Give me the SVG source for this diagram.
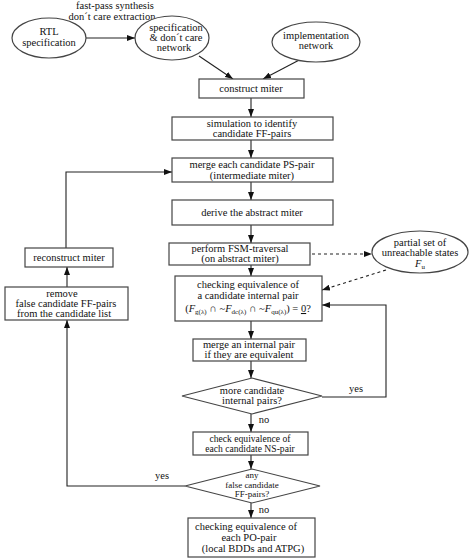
<svg xmlns="http://www.w3.org/2000/svg" width="474" height="560" viewBox="0 0 474 560">
<defs>
<marker id="ah" markerWidth="8" markerHeight="6" refX="8" refY="3" orient="auto" markerUnits="userSpaceOnUse">
<path d="M0,0 L8,3 L0,6 z" fill="#111"/>
</marker>
<style>
text{font-family:"Liberation Serif","Times New Roman",serif;font-size:10.5px;fill:#111;text-anchor:middle}
.tight{font-size:9.6px}
.tiny{font-size:9px}
.box{fill:#fff;stroke:#444;stroke-width:1.2}
.ln{fill:none;stroke:#222;stroke-width:1.1}
.ar{fill:none;stroke:#222;stroke-width:1.1;marker-end:url(#ah)}
.da{fill:none;stroke:#222;stroke-width:1.1;stroke-dasharray:3,3;marker-end:url(#ah)}
.sub{font-size:7px}
.it{font-style:italic}
</style>
</defs>
<rect width="474" height="560" fill="#fff"/>

<g id="connectors">
<path class="ar" d="M86,38 H135"/>
<path class="ar" d="M199,56 L233,79"/>
<path class="ar" d="M305,57 L263,79"/>
<path class="ar" d="M251,98 V117"/>
<path class="ar" d="M251,140 V158"/>
<path class="ar" d="M251,182 V200"/>
<path class="ar" d="M251,225 V243"/>
<path class="ar" d="M251,265 V276"/>
<path class="ar" d="M251,321 V339"/>
<path class="ar" d="M251,361 V378"/>
<path class="ar" d="M251,414 V432"/>
<path class="ar" d="M251,455 V469"/>
<path class="ar" d="M251,503 V518"/>
<path class="da" d="M312,254 H372"/>
<path class="da" d="M386,270 L322,290"/>
<path class="ar" d="M322,397 H386 V305 H322"/>
<path class="ar" d="M185,486 H67 V320"/>
<path class="ar" d="M67,287 V267"/>
<path class="ar" d="M66,248 V172 H172"/>
<text x="115" y="9">fast-pass synthesis</text>
<text x="112" y="20">don´t care extraction</text>
<text x="356" y="392">yes</text>
<text x="264" y="423">no</text>
<text x="162" y="479">yes</text>
<text x="264" y="513">no</text>
</g>

<g id="rtl">
<ellipse cx="49" cy="38" rx="37" ry="20" class="box"/>
<text x="49" y="35">RTL</text>
<text x="49" y="46">specification</text>
</g>
<g id="spec">
<ellipse cx="172" cy="38" rx="37" ry="22" class="box"/>
<text x="176" y="31">specification</text>
<text x="176" y="41">&amp; don´t care</text>
<text x="174" y="51">network</text>
</g>
<g id="impl">
<ellipse cx="316" cy="42" rx="44" ry="20" class="box"/>
<text x="316" y="39">implementation</text>
<text x="316" y="49">network</text>
</g>
<g id="construct">
<rect x="199" y="79" width="105" height="19" class="box"/>
<text x="251" y="92">construct miter</text>
</g>
<g id="simulation">
<rect x="172" y="117" width="161" height="23" class="box"/>
<text x="252" y="127">simulation to identify</text>
<text x="252" y="137">candidate FF-pairs</text>
</g>
<g id="mergePS">
<rect x="172" y="158" width="161" height="24" class="box"/>
<text x="252" y="168">merge each candidate PS-pair</text>
<text x="252" y="179">(intermediate miter)</text>
</g>
<g id="derive">
<rect x="172" y="200" width="161" height="25" class="box"/>
<text x="252" y="216">derive the abstract miter</text>
</g>
<g id="perform">
<rect x="169" y="243" width="141" height="22" class="box"/>
<text x="240" y="252">perform FSM-traversal</text>
<text x="240" y="262">(on abstract miter)</text>
</g>
<g id="unreach">
<ellipse cx="420" cy="252" rx="48" ry="21" class="box"/>
<text x="420" y="246">partial set of</text>
<text x="420" y="256">unreachable states</text>
<text x="420" y="267"><tspan class="it">F</tspan><tspan class="sub" dy="2">u</tspan></text>
</g>
<g id="checking">
<rect x="175" y="276" width="147" height="45" class="box"/>
<text x="248" y="288">checking equivalence of</text>
<text x="248" y="299">a candidate internal pair</text>
<text x="248" y="312">(<tspan class="it">F</tspan><tspan class="sub" dy="2">g(λ)</tspan><tspan dy="-2"> ∩ ~</tspan><tspan class="it">F</tspan><tspan class="sub" dy="2">dc(λ)</tspan><tspan dy="-2"> ∩ ~</tspan><tspan class="it">F</tspan><tspan class="sub" dy="2">qu(λ)</tspan><tspan dy="-2">) = </tspan><tspan text-decoration="underline">0</tspan>?</text>
</g>
<g id="mergeInternal">
<rect x="193" y="339" width="113" height="22" class="box"/>
<text x="249" y="348">merge an internal pair</text>
<text x="249" y="358">if they are equivalent</text>
</g>
<g id="moreCand">
<polygon points="182,396 252,378 322,396 252,414" class="box"/>
<text x="252" y="394">more candidate</text>
<text x="252" y="404">internal pairs?</text>
</g>
<g id="checkNS">
<rect x="193" y="432" width="115" height="23" class="box"/>
<text class="tight" x="250" y="442">check equivalence of</text>
<text class="tight" x="250" y="452">each candidate NS-pair</text>
</g>
<g id="anyFalse">
<polygon points="185,486 252,469 320,486 252,503" class="box"/>
<text class="tiny" x="252" y="478">any</text>
<text class="tiny" x="252" y="487.5">false candidate</text>
<text class="tiny" x="252" y="497">FF-pairs?</text>
</g>
<g id="checkPO">
<rect x="188" y="518" width="127" height="39" class="box"/>
<text x="246" y="530">checking equivalence of</text>
<text x="249" y="541">each PO-pair</text>
<text x="253" y="552">(local BDDs and ATPG)</text>
</g>
<g id="reconstruct">
<rect x="25" y="248" width="88" height="19" class="box"/>
<text x="69" y="261">reconstruct miter</text>
</g>
<g id="remove">
<rect x="5" y="287" width="123" height="33" class="box"/>
<text x="62" y="297">remove</text>
<text x="66" y="307">false candidate FF-pairs</text>
<text x="64" y="317">from the candidate list</text>
</g>
</svg>
